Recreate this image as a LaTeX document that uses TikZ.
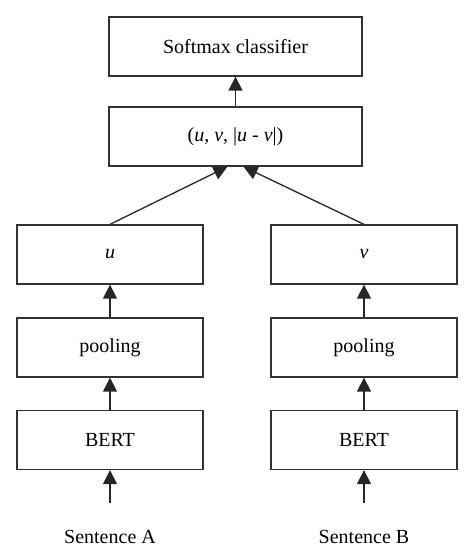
\documentclass[tikz,border=0pt]{standalone}
\usepackage{fontspec}
\setmainfont{Liberation Serif}
\usetikzlibrary{arrows.meta,calc}
\begin{document}
\begin{tikzpicture}[x=1pt,y=1pt,
  box/.style={draw=black!80,line width=1.3pt,minimum height=59pt,inner sep=0pt,font=\fontsize{20}{22}\selectfont},
  wide/.style={box,minimum width=253pt},
  narrow/.style={box,minimum width=186pt},
  arr/.style={line width=1.3pt,draw=black!85,-{Triangle[length=14pt,width=14pt]}},
  lbl/.style={font=\fontsize{20}{22}\selectfont}]
\useasboundingbox (0,0) rectangle (474,560);
\node[wide] (soft) at (235.5,513.5) {Softmax classifier};
\node[wide] (comb) at (235.5,423.5) {(\textit{u}, \textit{v}, |\textit{u} - \textit{v}|)};
\node[narrow] (u) at (110,305.5) {\textit{u}};
\node[narrow] (v) at (364,305.5) {\textit{v}};
\node[narrow] (pa) at (110,212.5) {pooling};
\node[narrow] (pb) at (364,212.5) {pooling};
\node[narrow] (ba) at (110,120) {BERT};
\node[narrow] (bb) at (364,120) {BERT};
\node[lbl] (sa) at (110,23) {Sentence A};
\node[lbl] (sb) at (364,23) {Sentence B};
\coordinate (ia) at (110,57);
\coordinate (ib) at (364,57);
\draw[arr] (comb.north) -- (soft.south);
\draw[arr] (u.north) -- ($(comb.south)+(-8,0)$);
\draw[arr] (v.north) -- ($(comb.south)+(8,0)$);
\draw[arr] (pa.north) -- (u.south);
\draw[arr] (pb.north) -- (v.south);
\draw[arr] (ba.north) -- (pa.south);
\draw[arr] (bb.north) -- (pb.south);
\draw[arr] (ia) -- (ba.south);
\draw[arr] (ib) -- (bb.south);
\end{tikzpicture}
\end{document}
